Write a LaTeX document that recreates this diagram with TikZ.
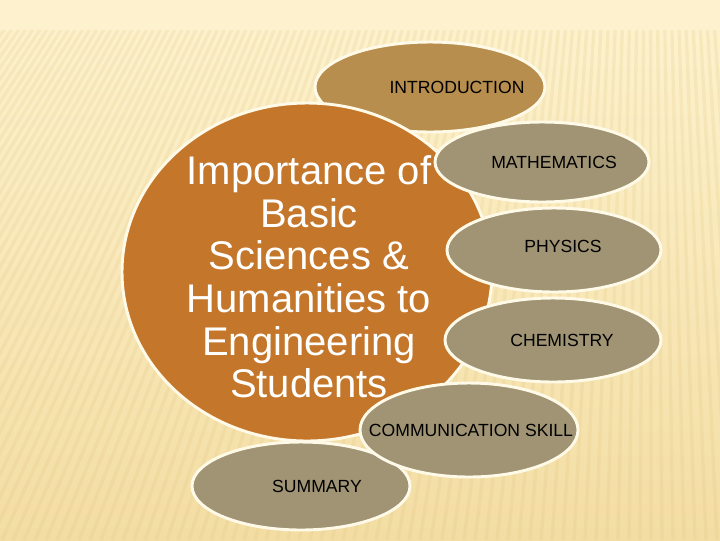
\documentclass[tikz,border=0pt]{standalone}
\usepackage{fontspec}
\setmainfont{Liberation Sans}
\usepackage{xcolor}
\usetikzlibrary{shapes.geometric,positioning,calc}

\definecolor{paper}{RGB}{253,242,205}
\definecolor{paperdark}{RGB}{243,221,163}
\definecolor{stripe}{RGB}{226,196,128}
\definecolor{rust}{RGB}{196,118,42}
\definecolor{ochre}{RGB}{183,142,77}
\definecolor{taupe}{RGB}{160,148,116}
\definecolor{rim}{RGB}{255,250,232}

\begin{document}
\begin{tikzpicture}[x=0.75pt, y=-0.75pt,
    bubble/.style={ellipse, draw=rim, line width=2.2pt, fill=taupe, inner sep=0pt},
    hub/.style={ellipse, draw=rim, line width=2.2pt, fill=rust, inner sep=0pt},
    tag/.style={font=\fontsize{13.2}{15}\selectfont, text=black, inner sep=0pt}
]
    \useasboundingbox (0,0) rectangle (720,540);

    % Background
    \fill[paper] (0,0) rectangle (720,540);
    \shade[top color=paper, bottom color=paperdark] (0,30) rectangle (720,540);
    \begin{scope}
        \clip (0,30) rectangle (720,540);
        \foreach \x in {-900,-889,...,800} {
            \draw[stripe, line width=2.5pt, opacity=0.2] (650,-900) -- (\x,540);
        }
    \end{scope}

    % Hub and top bubble
    \node [bubble, fill=ochre, minimum width=230*0.75pt, minimum height=90*0.75pt] (intro) at (430,87) {};
    \node [tag] (introtext) at (457,87) {INTRODUCTION};
    \node [hub, minimum width=370*0.75pt, minimum height=338*0.75pt] (hub) at (307,272) {};
    \node [font=\fontsize{30}{32}\selectfont, text=white, align=center, inner sep=0pt] (title) at (309,277)
        {Importance of\\Basic\\Sciences \&\\Humanities to\\Engineering\\Students};

    % Topic bubbles (name/x/y/width/height/text x/text y/label)
    \foreach \name/\cx/\cy/\w/\h/\tx/\ty/\label in {
        math/542/162/214/80/554/162/MATHEMATICS,
        phys/554/250/214/84/563/246/PHYSICS,
        chem/553/340/216/84/562/340/CHEMISTRY,
        summ/301/486/218/88/317/486/SUMMARY,
        comm/469/430/218/94/471/430/COMMUNICATION SKILL} {
        \node [bubble, minimum width=\w*0.75pt, minimum height=\h*0.75pt] (\name) at (\cx,\cy) {};
        \node [tag] (\name text) at (\tx,\ty) {\label};
    }
\end{tikzpicture}
\end{document}
